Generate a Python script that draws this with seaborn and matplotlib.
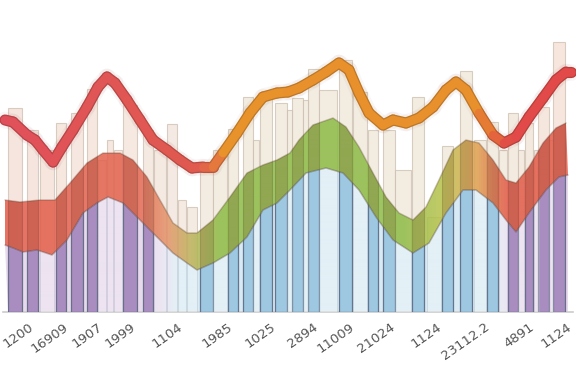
import numpy as np
import matplotlib
matplotlib.use('Agg')
import matplotlib.pyplot as plt
import seaborn as sns
from matplotlib.colors import LinearSegmentedColormap
from matplotlib.collections import LineCollection
from matplotlib.patches import Polygon

# 데이터 (기준선 위 높이, 픽셀 단위로 읽음)
top_x = [5, 13, 27, 35, 43, 53, 62, 73, 87, 98, 107, 115, 127, 140, 153, 167, 180, 192, 203, 213,
         223, 237, 250, 263, 277, 288, 299, 313, 326, 339, 349, 359, 369, 383, 393, 406, 419, 433,
         446, 456, 466, 479, 493, 504, 516, 529, 543, 556, 566, 571]
top_y = [192, 190, 177, 172, 162, 150, 165, 182, 205, 225, 235, 229, 212, 192, 172, 162, 152, 144,
         145, 145, 159, 179, 199, 215, 219, 220, 224, 232, 240, 249, 242, 219, 199, 187, 192, 189,
         194, 205, 222, 230, 222, 199, 177, 169, 175, 195, 214, 232, 240, 240]

hi_x = [5, 20, 40, 55, 70, 87, 103, 120, 133, 147, 160, 173, 187, 197, 213, 230, 247, 263, 277, 290,
        299, 313, 333, 346, 359, 373, 386, 399, 413, 426, 439, 453, 466, 479, 493, 506, 516, 529,
        543, 556, 566]
hi_y = [112, 110, 112, 112, 129, 149, 159, 159, 152, 135, 112, 89, 79, 79, 92, 115, 139, 147, 152,
        159, 172, 187, 194, 185, 165, 139, 115, 99, 92, 105, 132, 162, 172, 169, 152, 132, 129, 145,
        169, 184, 189]

lo_x = [5, 13, 23, 37, 52, 67, 83, 97, 108, 123, 140, 157, 173, 187, 197, 213, 230, 247, 263, 277,
        290, 306, 326, 343, 359, 376, 393, 413, 429, 446, 463, 476, 493, 506, 516, 529, 546, 559, 568]
lo_y = [67, 64, 60, 62, 57, 72, 99, 109, 115, 109, 92, 75, 59, 49, 42, 49, 59, 75, 102, 109, 122,
        139, 144, 139, 122, 95, 72, 59, 69, 99, 122, 122, 109, 92, 80, 99, 122, 135, 137]

dark_x = [15, 32, 61, 77, 92, 130, 148, 206, 233, 248, 266, 281, 297, 313, 345, 373, 389, 418,
          447, 466, 492, 513, 529, 543, 559]
dark_w = [14, 11, 10, 12, 10, 14, 10, 13, 10, 10, 12, 12, 11, 11, 13, 10, 12, 12, 11, 12, 11, 10,
          8, 11, 12]
dark_h = [204, 182, 189, 199, 223, 207, 182, 145, 183, 215, 219, 209, 214, 243, 252, 182, 182, 215,
          166, 241, 190, 199, 189, 205, 270]

light_x = [47, 102, 110, 118, 160, 172, 182, 192, 220, 256, 289, 305, 328, 360, 403, 434, 480, 503,
           521, 536, 551]
light_w = [14, 8, 6, 8, 12, 10, 8, 10, 14, 6, 5, 5, 18, 14, 16, 14, 12, 8, 6, 5, 4]
light_h = [162, 152, 172, 162, 162, 188, 112, 105, 162, 172, 202, 212, 222, 220, 142, 95, 172, 162,
           162, 162, 172]

tick_x = [18, 50, 87, 120, 167, 217, 260, 303, 336, 376, 426, 466, 519, 556]
tick_labels = ['1200', '16909', '1907', '1999', '1104', '1985', '1025', '2894', '11009', '21024',
               '1124', '23112.2', '4891', '1124']

W, H = 576, 282

cm_light = LinearSegmentedColormap.from_list('light', [
    (0, '#e6d8ec'), (0.27, '#e6d8ec'), (0.31, '#d6eaf5'), (0.86, '#d6eaf5'),
    (0.885, '#e6d8ec'), (1, '#e6d8ec')])
cm_dark = LinearSegmentedColormap.from_list('dark', [
    (0, '#9f80ba'), (0.27, '#9f80ba'), (0.31, '#94c3e0'), (0.86, '#94c3e0'),
    (0.885, '#9f80ba'), (1, '#9f80ba')])
cm_band = LinearSegmentedColormap.from_list('band', [
    (0, '#e25a48'), (0.24, '#e36450'), (0.29, '#e4946a'), (0.33, '#bdb25a'), (0.38, '#8cbb46'),
    (0.70, '#8cbb46'), (0.77, '#b8c24a'), (0.83, '#e0a050'), (0.88, '#e25a48'), (1, '#e25a48')])
cm_line = LinearSegmentedColormap.from_list('line', [
    (0, '#e0505a'), (0.35, '#e05a50'), (0.40, '#e8922c'), (0.83, '#e8902c'), (0.89, '#e14a48'),
    (1, '#e14a48')])
cm_faint = LinearSegmentedColormap.from_list('faint', [
    (0, '#f4dcd2'), (0.3, '#f2e4da'), (0.4, '#efe8d8'), (0.85, '#efe8d8'), (1, '#f4dcd2')])

sns.set_theme(style='white')
fig = plt.figure(figsize=(5.76, 3.84), dpi=100)
ax = fig.add_axes([0, 72 / 384, 1, H / 384])


def gradient_in(patch, cmap, alpha, zorder):
    ax.add_patch(patch)
    grad = np.linspace(0, 1, 576).reshape(1, -1)
    im = ax.imshow(grad, extent=[0, W, 0, H], aspect='auto', cmap=cmap, alpha=alpha,
                   zorder=zorder, origin='lower', interpolation='bilinear')
    im.set_clip_path(patch)


# 뒤쪽 흐린 막대 (전체 높이)
for xs, ws, hs in [(dark_x, dark_w, dark_h), (light_x, light_w, light_h)]:
    ax.bar(xs, hs, width=ws, color=[cm_faint(x / W) for x in xs], alpha=0.75,
           edgecolor='#cdbfb0', linewidth=0.8, zorder=1)

# 아래 영역 (보라/파랑)
base_poly = Polygon([(8, 0)] + list(zip(lo_x, lo_y)) + [(568, 0)], closed=True,
                    facecolor='none', edgecolor='none')
gradient_in(base_poly, cm_light, 0.95, 2)

# 가운데 띠 (빨강/초록)
band_poly = Polygon(list(zip(hi_x, hi_y)) + list(zip(lo_x, lo_y))[::-1], closed=True,
                    facecolor='none', edgecolor='none')
gradient_in(band_poly, cm_band, 0.85, 3)

# 진한 막대: 아래 영역에서는 보라/파랑, 띠 안에서는 어둡게
bars = ax.bar(dark_x, dark_h, width=dark_w, color=[cm_dark(x / W) for x in dark_x], alpha=0.85,
              edgecolor='#56647c', linewidth=0.9, zorder=4)
for b in bars:
    b.set_clip_path(base_poly)
shade = ax.bar(dark_x, dark_h, width=dark_w, color='#5a1e10', alpha=0.16,
               edgecolor='#3a2a20', linewidth=0.8, zorder=4)
for b in shade:
    b.set_clip_path(band_poly)
lbars = ax.bar(light_x, light_h, width=light_w, color='white', alpha=0.3,
               edgecolor='#9aa8b8', linewidth=0.6, zorder=4)
for b in lbars:
    b.set_clip_path(base_poly)

# 띠 경계선
sns.lineplot(x=hi_x, y=hi_y, sort=False, estimator=None, color='#5a3a2a', alpha=0.3, lw=1.1,
             ax=ax, zorder=5)
sns.lineplot(x=lo_x, y=lo_y, sort=False, estimator=None, color='#4a3a3a', alpha=0.35, lw=1.1,
             ax=ax, zorder=5)

# 위쪽 굵은 선
pts = np.column_stack([top_x, top_y])
segs = np.stack([pts[:-1], pts[1:]], axis=1)
mids = (pts[:-1, 0] + pts[1:, 0]) / 2 / W
cols = np.array([cm_line(m) for m in mids])
dark_cols = cols.copy()
dark_cols[:, :3] *= 0.82
ax.add_collection(LineCollection(segs, colors=[(0.6, 0.4, 0.4, 0.06)], linewidths=12,
                                 capstyle='round', joinstyle='round', zorder=6))
ax.add_collection(LineCollection(segs, colors=dark_cols, linewidths=8, capstyle='round',
                                 joinstyle='round', zorder=7))
ax.add_collection(LineCollection(segs, colors=cols, linewidths=6.2, capstyle='round',
                                 joinstyle='round', zorder=8))

ax.set_xlim(0, W)
ax.set_ylim(0, H)
ax.set_yticks([])
ax.set_xticks(tick_x, tick_labels, rotation=35, ha='center', va='top')
ax.tick_params(axis='x', length=0, pad=6, labelsize=9.5, labelcolor='#555555')
for s in ['top', 'left', 'right']:
    ax.spines[s].set_visible(False)
ax.spines['bottom'].set_color('#cccccc')
ax.spines['bottom'].set_linewidth(1.2)
ax.spines['bottom'].set_bounds(3, 573)
ax.set_facecolor('none')

fig.savefig('out.png', dpi=100)
